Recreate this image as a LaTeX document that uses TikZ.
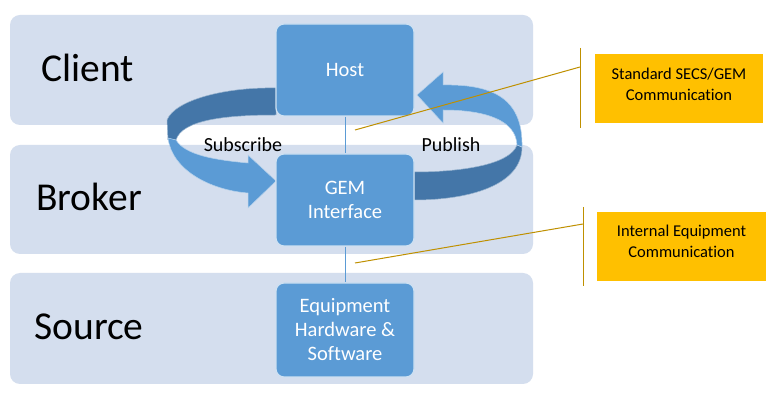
\documentclass[tikz,border=0pt]{standalone}
\usepackage{fontspec}
\setmainfont{Carlito}[Ligatures=CommonOff]
\definecolor{bandblue}{RGB}{212,222,238}
\definecolor{boxblue}{RGB}{91,155,213}
\definecolor{backblue}{RGB}{68,118,168}
\definecolor{callgold}{RGB}{191,144,0}
\definecolor{noteorange}{RGB}{255,192,0}
\begin{document}
\begin{tikzpicture}[x=1pt, y=-1pt,
    band/.style={fill=bandblue, rounded corners=10pt},
    layer/.style={anchor=base, font=\fontsize{39.5}{44}\selectfont},
    box/.style={draw=white!70!boxblue, line width=1.2pt, fill=boxblue, rounded corners=8pt,
        minimum width=138pt, minimum height=92pt, text=white, align=center,
        font=\fontsize{20.5}{24}\selectfont},
    flow/.style={anchor=base, font=\fontsize{20}{24}\selectfont},
    front/.style={fill=boxblue, draw=white!55!boxblue, line width=0.5pt},
    back/.style={fill=backblue, draw=white!45!backblue, line width=0.5pt},
    note/.style={fill=noteorange},
    notetext/.style={align=center, font=\fontsize{16.5}{21}\selectfont},
    callout/.style={callgold, line width=1pt},
    link/.style={boxblue, line width=1pt}]
    \useasboundingbox (0,0) rectangle (779,419);
    \fill[white] (0,0) rectangle (779,419);

    % layers
    \fill[band] (10,15) rectangle (533,125);
    \fill[band] (10,145) rectangle (533,254);
    \fill[band] (10,273) rectangle (533,384);
    \node[layer] (client) at (88,82) {Client};
    \node[layer] (broker) at (89,211) {Broker};
    \node[layer] (source) at (89,340) {Source};

    % subscribe arrow
    \filldraw[back] (276,88) .. controls (225,87) and (175,100) .. (167,120) -- (168,140) -- (176,140)
        .. controls (182,120) and (225,115) .. (276,115) -- cycle;
    \filldraw[front] (168,138) .. controls (172,170) and (210,190) .. (248,193) -- (248,208) -- (276,181)
        -- (248,155) -- (248,163) .. controls (215,160) and (185,155) .. (176,140) -- cycle;

    % publish arrow
    \filldraw[back] (414,200) .. controls (470,200) and (522,185) .. (522,147) -- (517,145)
        .. controls (510,165) and (460,172) .. (414,172) -- cycle;
    \filldraw[front] (522,147) .. controls (523,100) and (495,84) .. (443,85) -- (443,72) -- (417,95)
        -- (443,123) -- (443,110) .. controls (485,110) and (516,120) .. (517,145) -- cycle;

    \node[flow] (sub) at (243,152) {Subscribe};
    \node[flow] (pub) at (451,152) {Publish};

    % boxes
    \node[box] (host) at (345,70) {Host};
    \node[box] (gem) at (345,200) {GEM\\Interface};
    \node[box, minimum height=94pt] (equip) at (345,330) {Equipment\\Hardware \&\\Software};
    \draw[link] (host) -- (gem);
    \draw[link] (gem) -- (equip);

    % notes
    \fill[note] (595,54) rectangle (763,123);
    \fill[note] (597,212) rectangle (766,281);
    \node[notetext] (std) at (679,84) {Standard SECS/GEM\\Communication};
    \node[notetext] (internal) at (681.5,241) {Internal Equipment\\Communication};

    \coordinate (stdtop) at (580,48);
    \coordinate (stdbot) at (580,128);
    \coordinate (stdtip) at (580,67);
    \coordinate (stdfoot) at (355,130);
    \coordinate (inttop) at (583,207);
    \coordinate (intbot) at (583,286);
    \coordinate (inttip) at (583,224);
    \coordinate (intfoot) at (355,263);
    \draw[callout] (stdtop) -- (stdbot);
    \draw[callout] (stdfoot) -- (stdtip);
    \draw[callout] (inttop) -- (intbot);
    \draw[callout] (intfoot) -- (inttip);
\end{tikzpicture}
\end{document}
